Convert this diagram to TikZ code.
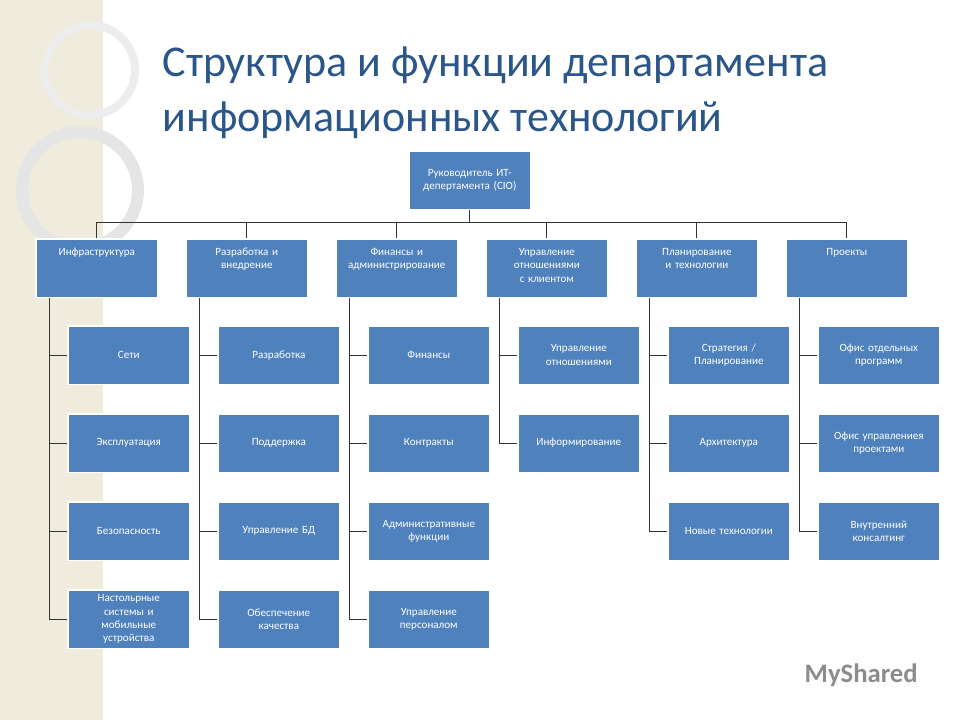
\documentclass[tikz,border=0pt]{standalone}
\usepackage{fontspec}
\setmainfont{Carlito}
\usetikzlibrary{positioning}
\definecolor{boxblue}{HTML}{4F81BD}
\definecolor{titleblue}{HTML}{2A5689}
\definecolor{strip}{HTML}{EFEBDD}
\tikzset{
  box/.style={draw=white,line width=1.2pt,fill=boxblue,text=white,minimum width=91.5pt,minimum height=44pt,
    text width=76pt,align=center,font=\fontsize{8.3}{10}\selectfont,inner sep=1pt,anchor=north west},
  htext/.style={text=white,text width=76pt,align=center,font=\fontsize{8.3}{10}\selectfont,inner sep=1pt,anchor=north},
  link/.style={draw=black!80,line width=0.6pt}
}
\begin{document}
\begin{tikzpicture}[x=0.75pt,y=-0.75pt]
	\useasboundingbox (0,0) rectangle (960,720);
	\fill[strip] (0,0) rectangle (105,720);
	\draw[white,line width=1.5pt] (104,0) -- (104,720);
	\draw[black!10,line width=9pt] (80,190) circle (58);
	\draw[black!7,line width=6pt] (90,70) circle (45);
	\node[anchor=west,text=titleblue,font=\fontsize{33}{40}\selectfont] (t1) at (158,65) {Структура и функции департамента};
	\node[anchor=west,text=titleblue,font=\fontsize{33}{40}\selectfont] (t2) at (158,120) {информационных технологий};
	% top
	\node[box] (cio) at (408,150) {Руководитель ИТ-депертамента (CIO)};
	\draw[link] (cio.south) -- (cio.south|-0,222);
	% columns
	\foreach \i/\txt in {0/Инфраструктура,1/Разработка и внедрение,2/Финансы и администрирование,3/Управление отношениями с клиентом,4/Планирование и технологии,5/Проекты}{
		\node[box] (h\i) at (35+150*\i,238) {};
		\node[htext] (ht\i) at ([yshift=-5pt]h\i.north) {\strut\txt};
		\draw[link] (h\i.north) -- (h\i.north|-0,222);
		\coordinate (v\i) at ([xshift=10.5pt]h\i.south west);
	}
	\draw[link] (h0.north|-0,222) -- (h5.north|-0,222);
	% sub boxes
	\foreach \i/\list in {0/{Сети,Эксплуатация,Безопасность,Настольрные системы и мобильные устройства},
		1/{Разработка,Поддержка,Управление БД,Обеспечение качества},
		2/{Финансы,Контракты,Административные функции,Управление персоналом},
		3/{Управление отношениями,Информирование},
		4/{Стратегия / Планирование,Архитектура,Новые технологии},
		5/{Офис отдельных программ,Офис управлениея проектами,Внутренний консалтинг}}{
		\foreach \t [count=\j from 0] in \list{
			\node[box] (s\i\j) at (67+150*\i,325+88*\j) {\t};
			\draw[link] (v\i |- s\i\j.west) -- (s\i\j.west);
			\xdef\last{\j}
		}
		\draw[link] (v\i) -- (v\i |- s\i\last.west);
	}
	\node[text=black!45,font=\bfseries\fontsize{20}{24}\selectfont,anchor=west] (logo) at (800,675) {MyShared};
\end{tikzpicture}
\end{document}
